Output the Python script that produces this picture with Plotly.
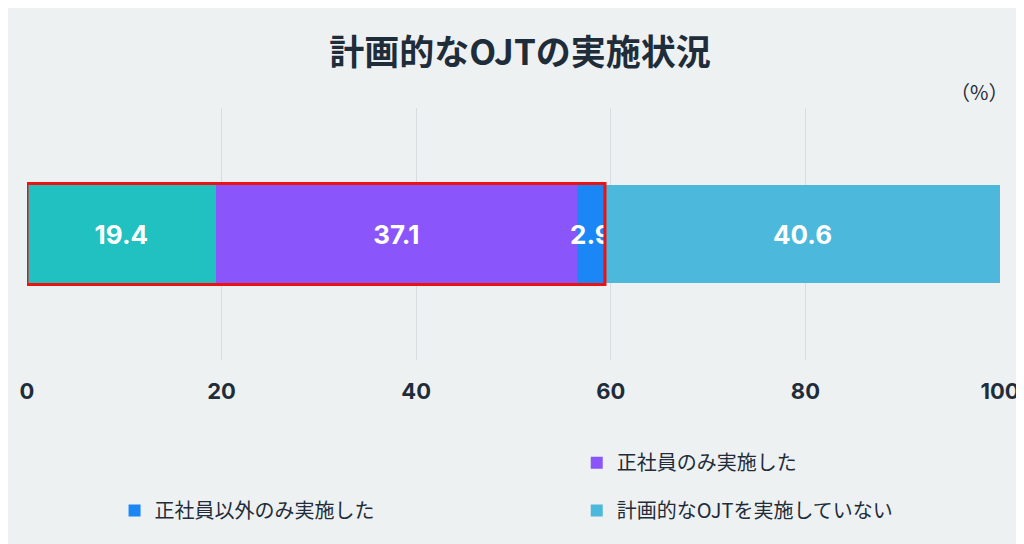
import plotly.graph_objects as go

category = ["OJT"]
series_names = ["正社員と正社員以外、両方実施した", "正社員のみ実施した",
                "正社員以外のみ実施した", "計画的なOJTを実施していない"]
values = [19.4, 37.1, 2.9, 40.6]
colors = ["#20c1c0", "#8a56fb", "#1b86f6", "#4cb8dc"]
tick_vals = [0, 20, 40, 60, 80, 100]

legend_ids = ["legend", "legend2", "legend3", "legend4"]
legend_pos = [(0.09, -0.33), (0.565, -0.33), (0.09, -0.52), (0.565, -0.52)]

fig = go.Figure()
for name, v, c, lg in zip(series_names, values, colors, legend_ids):
    fig.add_trace(go.Bar(
        x=[v], y=category, orientation="h", name=name, marker_color=c,
        marker_line_width=0, text=[f"<b>{v}</b>"], textposition="inside",
        insidetextanchor="middle", constraintext="none", textangle=0,
        textfont=dict(color="white", size=26, family="Inter"),
        legend=lg,
    ))

implemented = sum(values[:3])
fig.add_shape(type="rect", xref="x", yref="y", x0=0, x1=implemented,
              y0=-0.2, y1=0.2, line=dict(color="#ee1111", width=3))

legend_style = dict(orientation="h", xanchor="left", yanchor="top",
                    font=dict(size=20, color="#1f2d3a"),
                    bgcolor="rgba(0,0,0,0)")
layout_legends = {lg: dict(x=px, y=py, **legend_style)
                  for lg, (px, py) in zip(legend_ids, legend_pos)}

fig.update_layout(
    barmode="stack", bargap=0.61,
    width=1024, height=544,
    paper_bgcolor="#eef1f2", plot_bgcolor="#eef1f2",
    margin=dict(l=18, r=29, t=100, b=192),
    font=dict(family="Noto Sans CJK JP", color="#1f2d3a"),
    title=dict(text="<b>計画的なOJTの実施状況</b>", x=0.5, y=0.94,
               xanchor="center", font=dict(size=35, color="#1f2d3a")),
    xaxis=dict(range=[0, 100], tickvals=tick_vals, showgrid=True,
               gridcolor="#d8dcde", zeroline=False, ticks="",
               tickfont=dict(size=22, family="Inter", weight="bold"),
               ticklabelstandoff=16),
    yaxis=dict(showticklabels=False, range=[-0.5, 0.5]),
    **layout_legends,
)
fig.add_annotation(text="（%）", xref="paper", yref="paper", x=1.01, y=1.0,
                   xanchor="right", yanchor="bottom", showarrow=False,
                   font=dict(size=20, color="#1f2d3a"))
fig.write_html("out.html")
